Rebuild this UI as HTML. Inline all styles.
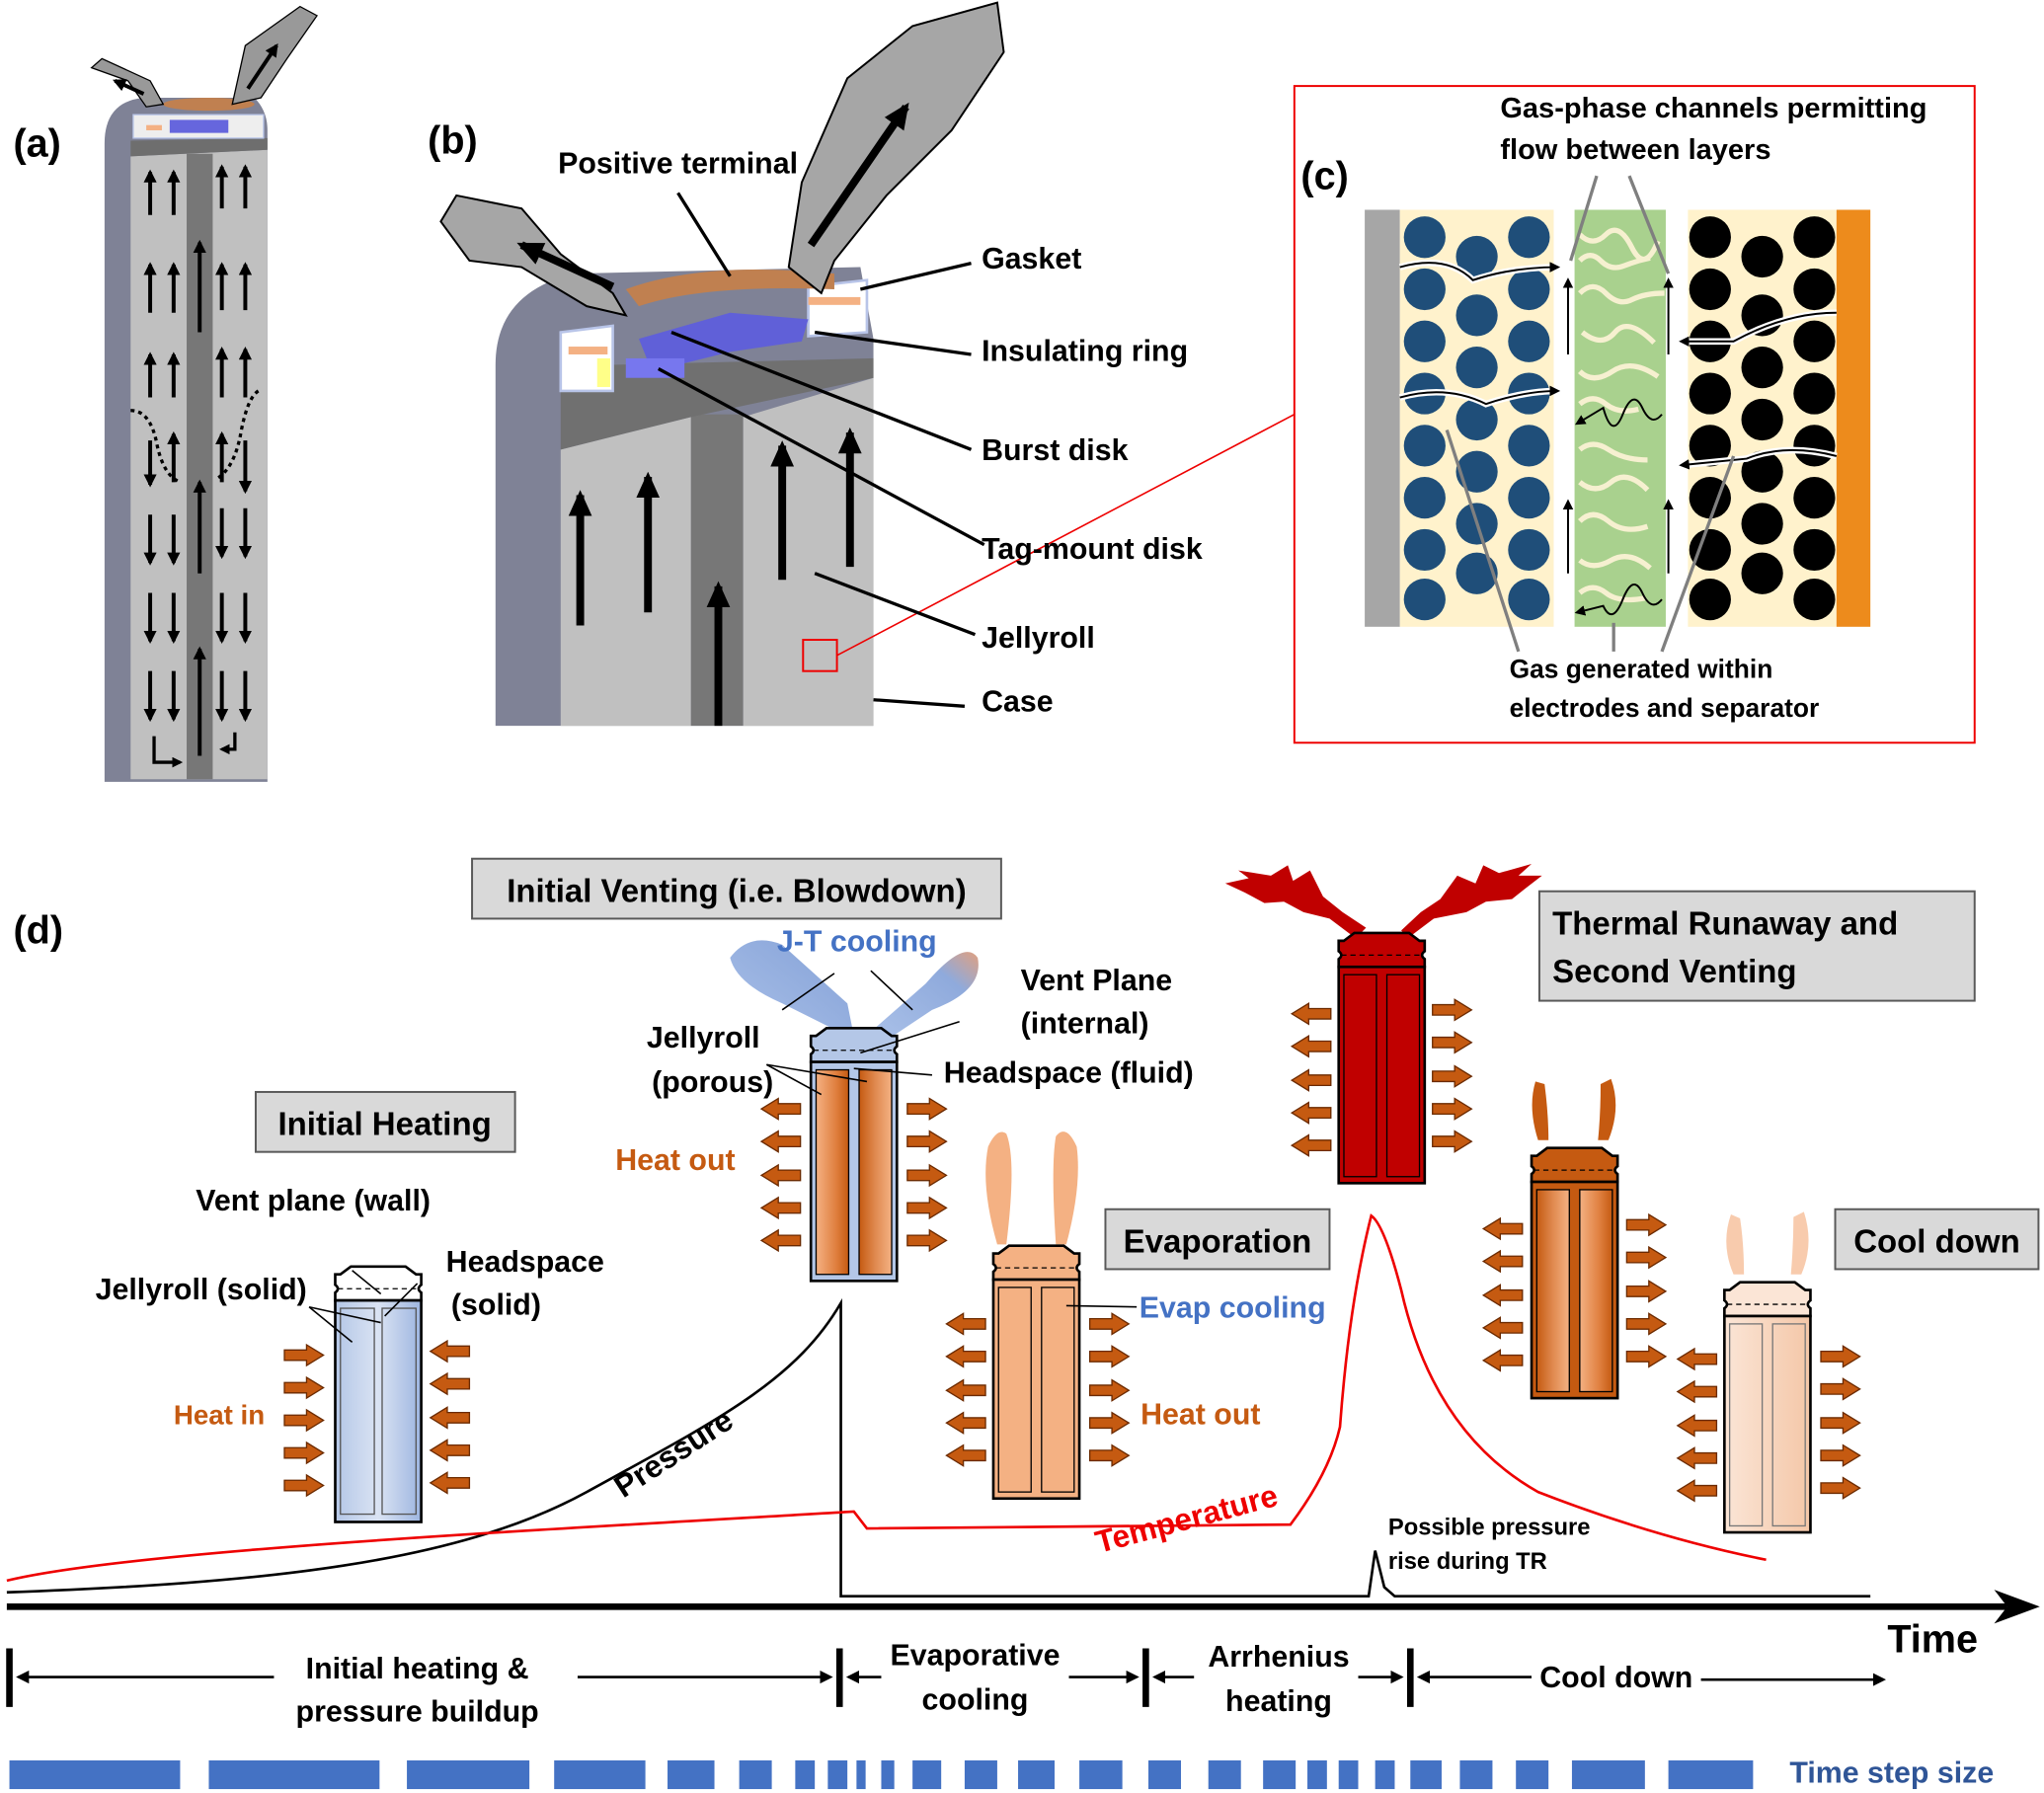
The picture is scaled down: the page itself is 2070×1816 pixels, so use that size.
<!DOCTYPE html>
<html><head><meta charset="utf-8"><style>html,body{margin:0;padding:0;background:#fff}svg{display:block}text{font-family:"Liberation Sans",sans-serif;font-weight:bold}</style></head><body>
<svg width="2070" height="1816" viewBox="0 0 1568 1376" xmlns="http://www.w3.org/2000/svg">
<defs>
<path id="ar" d="M0,-4 L17,-4 L17,-8 L30,0 L17,8 L17,4 L0,4Z" fill="#c55a11" stroke="#6b2a00" stroke-width="1"/>
<marker id="mk" markerUnits="userSpaceOnUse" markerWidth="10" markerHeight="10" refX="8" refY="5" orient="auto"><path d="M0,0 L10,5 L0,10Z" fill="#000"/></marker>
<marker id="ms" markerUnits="userSpaceOnUse" markerWidth="8" markerHeight="8" refX="6" refY="4" orient="auto"><path d="M0,0 L8,4 L0,8Z" fill="#000"/></marker>
<marker id="mb" markerUnits="userSpaceOnUse" markerWidth="20" markerHeight="20" refX="16" refY="10" orient="auto"><path d="M0,1 L20,10 L0,19Z" fill="#000"/></marker>
<linearGradient id="gb" x1="0" x2="1"><stop offset="0" stop-color="#b4c7e7"/><stop offset=".5" stop-color="#dae3f3"/><stop offset="1" stop-color="#9db5e0"/></linearGradient>
<linearGradient id="go" x1="0" x2="1"><stop offset="0" stop-color="#f4b183"/><stop offset=".6" stop-color="#e08040"/><stop offset="1" stop-color="#c55a11"/></linearGradient>
<linearGradient id="go2" x1="0" x2="1"><stop offset="0" stop-color="#c55a11"/><stop offset=".5" stop-color="#e08a50"/><stop offset="1" stop-color="#f4b183"/></linearGradient>
<linearGradient id="gc" x1="0" x2="1"><stop offset="0" stop-color="#fbe5d6"/><stop offset="1" stop-color="#f4c7a8"/></linearGradient>
<linearGradient id="gp" x1="0" x2="1" y1="1" y2="0"><stop offset="0" stop-color="#a9c0e8"/><stop offset=".7" stop-color="#8faadc"/><stop offset="1" stop-color="#e0a080"/></linearGradient>
</defs>

<!-- (a) -->
<text x="10" y="120" font-size="30">(a)</text>
<path d="M80,110 Q80,78 110,75 L195,75 Q205,85 205,100 L205,600 L80,600Z" fill="#7f8296"/>
<path d="M100,120 L205,115 L205,598 L100,598Z" fill="#c0c0c0"/>
<rect x="143" y="118" width="20" height="480" fill="#777"/>
<path d="M100,120 L205,115 L205,106 L100,108Z" fill="#6e6e6e"/>
<rect x="102" y="88" width="100" height="18" fill="#eee" stroke="#b8c4e8"/>
<rect x="130" y="92" width="45" height="10" fill="#6666dd"/>
<rect x="112" y="96" width="12" height="4" fill="#f4b183"/>
<ellipse cx="160" cy="80" rx="35" ry="5" fill="#c08050"/>
<path d="M98,62 L70,52 L78,45 L115,62 L125,80 L112,82Z" fill="#999" stroke="#000"/>
<path d="M178,80 L188,35 L230,5 L243,12 L220,45 L200,75Z" fill="#999" stroke="#000"/>
<g stroke="#000" stroke-width="3" marker-end="url(#mk)">
<line x1="110" y1="72" x2="88" y2="62"/><line x1="190" y1="68" x2="212" y2="35"/>
<line x1="115" y1="165" x2="115" y2="132"/><line x1="133" y1="165" x2="133" y2="132"/><line x1="170" y1="160" x2="170" y2="128"/><line x1="188" y1="160" x2="188" y2="128"/>
<line x1="115" y1="240" x2="115" y2="203"/><line x1="133" y1="240" x2="133" y2="203"/><line x1="170" y1="238" x2="170" y2="203"/><line x1="188" y1="238" x2="188" y2="203"/>
<line x1="153" y1="255" x2="153" y2="186"/>
<line x1="115" y1="305" x2="115" y2="272"/><line x1="133" y1="305" x2="133" y2="272"/><line x1="170" y1="305" x2="170" y2="268"/><line x1="188" y1="305" x2="188" y2="268"/>
<line x1="115" y1="338" x2="115" y2="372"/><line x1="133" y1="370" x2="133" y2="333"/><line x1="170" y1="370" x2="170" y2="333"/><line x1="188" y1="338" x2="188" y2="377"/>
<line x1="153" y1="440" x2="153" y2="370"/><line x1="153" y1="580" x2="153" y2="498"/>
<line x1="115" y1="395" x2="115" y2="432"/><line x1="133" y1="395" x2="133" y2="432"/><line x1="170" y1="390" x2="170" y2="427"/><line x1="188" y1="390" x2="188" y2="427"/>
<line x1="115" y1="455" x2="115" y2="492"/><line x1="133" y1="455" x2="133" y2="492"/><line x1="170" y1="455" x2="170" y2="492"/><line x1="188" y1="455" x2="188" y2="492"/>
<line x1="115" y1="515" x2="115" y2="552"/><line x1="133" y1="515" x2="133" y2="552"/><line x1="170" y1="515" x2="170" y2="552"/><line x1="188" y1="515" x2="188" y2="552"/>
</g>
<path d="M100,315 Q115,315 120,340 Q125,365 138,370 M198,300 Q190,305 185,330 Q180,360 165,368" fill="none" stroke="#000" stroke-width="2.5" stroke-dasharray="3,3"/>
<path d="M118,565 L118,585 L138,585" fill="none" stroke="#000" stroke-width="2.5" marker-end="url(#ms)"/>
<path d="M180,562 L180,575 L170,575" fill="none" stroke="#000" stroke-width="2.5" marker-end="url(#ms)"/>

<!-- (b) -->
<text x="328" y="118" font-size="30">(b)</text>
<path d="M380,280 Q380,225 440,210 L660,205 L670,260 L670,557 L380,557Z" fill="#7f8296"/>
<path d="M430,345 L530,320 L530,557 L430,557Z" fill="#c0c0c0"/>
<path d="M570,320 L670,290 L670,557 L570,557Z" fill="#c0c0c0"/>
<rect x="530" y="318" width="40" height="239" fill="#777"/>
<path d="M430,345 L530,320 L670,290 L670,275 L470,280 L430,300Z" fill="#707070"/>
<path d="M430,255 L470,250 L470,300 L430,300Z" fill="#fff" stroke="#b8c4e8" stroke-width="2"/>
<rect x="436" y="266" width="30" height="6" fill="#f4b183"/>
<rect x="458" y="275" width="10" height="22" fill="#ffff88"/>
<path d="M620,220 L665,215 L665,255 L620,258Z" fill="#fff" stroke="#b8c4e8" stroke-width="2"/>
<rect x="620" y="228" width="40" height="6" fill="#f4b183"/>
<path d="M490,260 L560,240 L620,245 L615,262 L560,270 L500,285Z" fill="#6060d8"/>
<rect x="480" y="275" width="45" height="15" fill="#7777ee"/>
<path d="M480,222 Q540,200 640,210 L640,222 Q540,218 490,235Z" fill="#c08050"/>
<path d="M350,150 L338,170 L360,200 L400,205 L450,235 L480,242 L470,225 L430,195 L400,160 Z" fill="#a6a6a6" stroke="#000" stroke-width="1.5"/>
<path d="M605,205 L615,140 L650,60 L700,20 L765,2 L770,40 L730,100 L680,150 L640,200 L630,225Z" fill="#a6a6a6" stroke="#000" stroke-width="1.5"/>
<g stroke="#000" stroke-width="6" marker-end="url(#mb)">
<line x1="470" y1="220" x2="400" y2="188"/><line x1="622" y1="188" x2="695" y2="82"/>
<line x1="445" y1="480" x2="445" y2="380"/><line x1="497" y1="470" x2="497" y2="366"/><line x1="600" y1="445" x2="600" y2="342"/><line x1="652" y1="435" x2="652" y2="332"/><line x1="551" y1="557" x2="551" y2="450"/>
</g>
<rect x="616" y="491" width="26" height="24" fill="none" stroke="#e00" stroke-width="1.5"/>
<line x1="642" y1="503" x2="993" y2="318" stroke="#e00" stroke-width="1.2"/>
<g stroke="#000" stroke-width="2.5">
<line x1="520" y1="148" x2="560" y2="212"/><line x1="745" y1="202" x2="660" y2="222"/><line x1="745" y1="272" x2="625" y2="255"/><line x1="745" y1="345" x2="515" y2="255"/><line x1="755" y1="418" x2="505" y2="283"/><line x1="748" y1="487" x2="625" y2="440"/><line x1="740" y1="542" x2="670" y2="537"/>
</g>
<g font-size="23">
<text x="428" y="133">Positive terminal</text><text x="753" y="206">Gasket</text><text x="753" y="277">Insulating ring</text><text x="753" y="353">Burst disk</text><text x="753" y="429">Tag-mount disk</text><text x="753" y="497">Jellyroll</text><text x="753" y="546">Case</text>
</g>

<!-- (c) -->
<rect x="993" y="66" width="522" height="504" fill="none" stroke="#e00" stroke-width="1.5"/>
<text x="998" y="145" font-size="30">(c)</text>
<text x="1151" y="90" font-size="22">Gas-phase channels permitting</text>
<text x="1151" y="122" font-size="22">flow between layers</text>
<rect x="1047" y="161" width="27" height="320" fill="#a6a6a6"/>
<rect x="1074" y="161" width="118" height="320" fill="#fff2cc"/>
<rect x="1208" y="161" width="70" height="320" fill="#a9d18e"/>
<path d="M1212,180 q10,10 20,0 t20,10 t20,-5 M1212,200 q8,-8 16,0 t18,4 t20,-6 M1212,225 q10,-10 20,0 t20,5 t25,-5 M1214,255 q15,12 25,0 t30,8 M1212,285 q10,10 25,0 t35,4 M1212,310 q10,-8 20,0 t25,4 M1212,345 q10,-8 22,0 t30,8 M1212,370 q12,10 24,0 t28,6 M1212,400 q10,-10 22,0 t30,4 M1212,430 q10,8 24,0 t30,6 M1212,455 q10,-8 20,0 t30,4" fill="none" stroke="#f6f0d0" stroke-width="4"/>
<rect x="1295" y="161" width="114" height="320" fill="#fff2cc"/>
<rect x="1409" y="161" width="26" height="320" fill="#ed8b1c"/>
<g fill="#1f4e79">
<circle cx="1093" cy="182" r="16"/><circle cx="1133" cy="197" r="16"/><circle cx="1173" cy="182" r="16"/>
<circle cx="1093" cy="222" r="16"/><circle cx="1133" cy="242" r="16"/><circle cx="1173" cy="222" r="16"/>
<circle cx="1093" cy="262" r="16"/><circle cx="1133" cy="282" r="16"/><circle cx="1173" cy="262" r="16"/>
<circle cx="1093" cy="302" r="16"/><circle cx="1133" cy="322" r="16"/><circle cx="1173" cy="302" r="16"/>
<circle cx="1093" cy="342" r="16"/><circle cx="1133" cy="362" r="16"/><circle cx="1173" cy="342" r="16"/>
<circle cx="1093" cy="382" r="16"/><circle cx="1133" cy="402" r="16"/><circle cx="1173" cy="382" r="16"/>
<circle cx="1093" cy="422" r="16"/><circle cx="1133" cy="440" r="16"/><circle cx="1173" cy="422" r="16"/>
<circle cx="1093" cy="460" r="16"/><circle cx="1173" cy="460" r="16"/>
</g>
<g fill="#000">
<circle cx="1312" cy="182" r="16"/><circle cx="1352" cy="197" r="16"/><circle cx="1392" cy="182" r="16"/>
<circle cx="1312" cy="222" r="16"/><circle cx="1352" cy="242" r="16"/><circle cx="1392" cy="222" r="16"/>
<circle cx="1312" cy="262" r="16"/><circle cx="1352" cy="282" r="16"/><circle cx="1392" cy="262" r="16"/>
<circle cx="1312" cy="302" r="16"/><circle cx="1352" cy="322" r="16"/><circle cx="1392" cy="302" r="16"/>
<circle cx="1312" cy="342" r="16"/><circle cx="1352" cy="362" r="16"/><circle cx="1392" cy="342" r="16"/>
<circle cx="1312" cy="382" r="16"/><circle cx="1352" cy="402" r="16"/><circle cx="1392" cy="382" r="16"/>
<circle cx="1312" cy="422" r="16"/><circle cx="1352" cy="440" r="16"/><circle cx="1392" cy="422" r="16"/>
<circle cx="1312" cy="460" r="16"/><circle cx="1392" cy="460" r="16"/>
</g>
<g fill="none" stroke="#fff" stroke-width="5">
<path d="M1074,205 Q1110,195 1130,215 Q1160,205 1195,205"/><path d="M1074,305 Q1110,295 1140,310 Q1170,300 1195,300"/>
<path d="M1409,240 Q1370,240 1330,262 L1290,262"/><path d="M1409,350 Q1370,340 1340,352 L1290,357"/>
</g>
<g fill="none" stroke="#000" stroke-width="1.5" marker-end="url(#ms)">
<path d="M1074,205 Q1110,195 1130,215 Q1160,205 1195,205"/><path d="M1074,305 Q1110,295 1140,310 Q1170,300 1195,300"/>
<path d="M1409,240 Q1370,240 1330,262 L1290,262"/><path d="M1409,350 Q1370,340 1340,352 L1290,357"/>
<path d="M1280,272 L1280,215"/><path d="M1280,440 L1280,385"/><path d="M1203,440 L1203,385"/><path d="M1203,272 L1203,215"/>
<path d="M1275,318 q-8,10 -15,-5 t-15,5 t-15,-5 L1210,325"/><path d="M1275,460 q-8,10 -15,-5 t-15,5 t-15,5 L1210,470"/>
</g>
<g stroke="#7f7f7f" stroke-width="2.5">
<line x1="1225" y1="135" x2="1205" y2="200"/><line x1="1250" y1="135" x2="1280" y2="210"/>
<line x1="1165" y1="500" x2="1110" y2="330"/><line x1="1238" y1="500" x2="1238" y2="478"/><line x1="1275" y1="500" x2="1330" y2="350"/>
</g>
<text x="1158" y="520" font-size="20">Gas generated within</text>
<text x="1158" y="550" font-size="20">electrodes and separator</text>

<!-- (d) -->
<text x="10" y="724" font-size="30">(d)</text>
<rect x="362" y="659" width="406" height="46" fill="#d9d9d9" stroke="#595959" stroke-width="1.5"/>
<text x="565" y="692" font-size="25" text-anchor="middle">Initial Venting (i.e. Blowdown)</text>
<rect x="196" y="838" width="199" height="46" fill="#d9d9d9" stroke="#595959" stroke-width="1.5"/>
<text x="295" y="871" font-size="25" text-anchor="middle">Initial Heating</text>
<rect x="848" y="928" width="172" height="46" fill="#d9d9d9" stroke="#595959" stroke-width="1.5"/>
<text x="934" y="961" font-size="25" text-anchor="middle">Evaporation</text>
<rect x="1408" y="928" width="156" height="46" fill="#d9d9d9" stroke="#595959" stroke-width="1.5"/>
<text x="1486" y="961" font-size="25" text-anchor="middle">Cool down</text>
<rect x="1181" y="684" width="334" height="84" fill="#d9d9d9" stroke="#595959" stroke-width="1.5"/>
<text x="1191" y="717" font-size="25">Thermal Runaway and</text>
<text x="1191" y="754" font-size="25">Second Venting</text>

<!-- curves -->
<path d="M5,1222 C200,1215 350,1200 450,1145 C550,1090 610,1060 645,1000 L645,1225 L1050,1225 L1055,1190 L1062,1218 L1070,1225 L1435,1225" fill="none" stroke="#000" stroke-width="2"/>
<path d="M5,1213 C100,1190 400,1175 655,1160 L665,1173 L990,1170 Q1020,1130 1028,1095 Q1035,1000 1052,933 Q1062,940 1075,990 Q1100,1100 1180,1145 Q1270,1180 1355,1197" fill="none" stroke="#e00" stroke-width="2"/>
<text x="478" y="1150" font-size="24" transform="rotate(-33 478 1150)">Pressure</text>
<text x="843" y="1192" font-size="24" fill="#e00" transform="rotate(-15 843 1192)">Temperature</text>

<!-- Cell 1 initial heating -->
<g transform="translate(257,978)">
<path d="M4,0 L12,-6 L54,-6 L62,0 L66,0 L66,8 Q62,11 66,14 L66,20 L0,20 L0,14 Q4,11 0,8 L0,0Z" fill="#fff" stroke="#000" stroke-width="2"/>
<line x1="2" y1="11" x2="64" y2="11" stroke="#000" stroke-dasharray="4,3"/>
<rect x="0" y="20" width="66" height="170" fill="url(#gb)" stroke="#000" stroke-width="2"/>
<rect x="4" y="26" width="26" height="158" fill="none" stroke="#555"/><rect x="36" y="26" width="26" height="158" fill="none" stroke="#555"/>
</g>
<g><use href="#ar" x="218" y="1040"/><use href="#ar" x="218" y="1065"/><use href="#ar" x="218" y="1090"/><use href="#ar" x="218" y="1115"/><use href="#ar" x="218" y="1140"/>
<g transform="translate(360,0) scale(-1,1)"><use href="#ar" x="0" y="1037"/><use href="#ar" x="0" y="1062"/><use href="#ar" x="0" y="1088"/><use href="#ar" x="0" y="1113"/><use href="#ar" x="0" y="1138"/></g></g>
<text x="133" y="1093" font-size="21" fill="#c55a11">Heat in</text>
<g stroke="#000" stroke-width="1.2"><line x1="270" y1="975" x2="292" y2="993"/><line x1="320" y1="985" x2="295" y2="1010"/><line x1="237" y1="1003" x2="270" y2="1030"/><line x1="237" y1="1003" x2="292" y2="1015"/></g>
<text x="150" y="929" font-size="23">Vent plane (wall)</text>
<text x="73" y="997" font-size="23">Jellyroll (solid)</text>
<text x="342" y="976" font-size="23">Headspace</text><text x="346" y="1009" font-size="23">(solid)</text>

<!-- Cell 2 venting -->
<path d="M640,790 L600,770 Q565,755 560,735 Q575,715 600,725 L650,770 L655,795Z" fill="url(#gp)"/>
<path d="M670,790 L710,755 Q740,720 750,735 Q755,760 715,775 L685,795Z" fill="url(#gp)"/>
<g transform="translate(622,795)">
<path d="M4,0 L12,-6 L54,-6 L62,0 L66,0 L66,8 Q62,11 66,14 L66,20 L0,20 L0,14 Q4,11 0,8 L0,0Z" fill="#b4c7e7" stroke="#000" stroke-width="2"/>
<line x1="2" y1="11" x2="64" y2="11" stroke="#000" stroke-dasharray="4,3"/>
<rect x="0" y="20" width="66" height="168" fill="#b4c7e7" stroke="#000" stroke-width="2"/>
<rect x="4" y="26" width="25" height="157" fill="url(#go)" stroke="#000"/><rect x="37" y="26" width="25" height="157" fill="url(#go2)" stroke="#000"/>
</g>
<g><use href="#ar" x="696" y="851"/><use href="#ar" x="696" y="876"/><use href="#ar" x="696" y="902"/><use href="#ar" x="696" y="927"/><use href="#ar" x="696" y="952"/>
<g transform="translate(614,0) scale(-1,1)"><use href="#ar" x="0" y="851"/><use href="#ar" x="0" y="876"/><use href="#ar" x="0" y="902"/><use href="#ar" x="0" y="927"/><use href="#ar" x="0" y="952"/></g></g>
<text x="472" y="898" font-size="23" fill="#c55a11">Heat out</text>
<text x="596" y="730" font-size="23" fill="#4472c4">J-T cooling</text>
<text x="783" y="760" font-size="23">Vent Plane</text><text x="783" y="793" font-size="23">(internal)</text>
<text x="496" y="804" font-size="23">Jellyroll</text><text x="500" y="838" font-size="23">(porous)</text>
<text x="724" y="831" font-size="23">Headspace (fluid)</text>
<g stroke="#000" stroke-width="1.2"><line x1="640" y1="747" x2="600" y2="775"/><line x1="668" y1="745" x2="700" y2="775"/><line x1="736" y1="784" x2="660" y2="808"/><line x1="655" y1="820" x2="715" y2="825"/><line x1="588" y1="817" x2="665" y2="830"/><line x1="588" y1="817" x2="630" y2="840"/></g>

<!-- Cell 3 evaporation -->
<path d="M765,955 Q752,910 758,880 Q765,865 772,870 Q780,890 772,955Z" fill="#f4b183"/>
<path d="M818,955 Q830,910 826,880 Q818,862 810,872 Q806,895 810,955Z" fill="#f4b183"/>
<g transform="translate(762,962)">
<path d="M4,0 L12,-6 L54,-6 L62,0 L66,0 L66,8 Q62,11 66,14 L66,20 L0,20 L0,14 Q4,11 0,8 L0,0Z" fill="#f4b183" stroke="#000" stroke-width="2"/>
<line x1="2" y1="11" x2="64" y2="11" stroke="#000" stroke-dasharray="4,3"/>
<rect x="0" y="20" width="66" height="168" fill="#f4b183" stroke="#000" stroke-width="2"/>
<rect x="4" y="26" width="25" height="157" fill="#f4b183" stroke="#000"/><rect x="37" y="26" width="25" height="157" fill="#f4b183" stroke="#000"/>
</g>
<g><use href="#ar" x="836" y="1016"/><use href="#ar" x="836" y="1041"/><use href="#ar" x="836" y="1067"/><use href="#ar" x="836" y="1092"/><use href="#ar" x="836" y="1117"/>
<g transform="translate(756,0) scale(-1,1)"><use href="#ar" x="0" y="1016"/><use href="#ar" x="0" y="1041"/><use href="#ar" x="0" y="1067"/><use href="#ar" x="0" y="1092"/><use href="#ar" x="0" y="1117"/></g></g>
<line x1="818" y1="1002" x2="872" y2="1003" stroke="#000" stroke-width="1.2"/>
<text x="874" y="1011" font-size="23" fill="#4472c4">Evap cooling</text>
<text x="875" y="1093" font-size="23" fill="#c55a11">Heat out</text>

<!-- Cell 4 thermal runaway -->
<path d="M1040,720 L1020,705 L1000,700 L985,692 L970,693 L955,685 L940,678 L958,674 L950,668 L975,672 L988,664 L992,676 L1005,668 L1015,688 L1030,700 L1048,712Z" fill="#c00000"/>
<path d="M1080,720 L1100,705 L1125,700 L1140,692 L1160,690 L1170,682 L1183,672 L1165,672 L1175,663 L1150,670 L1138,664 L1132,678 L1118,672 L1105,690 L1090,700 L1075,714Z" fill="#c00000"/>
<g transform="translate(1027,722)">
<path d="M4,0 L12,-6 L54,-6 L62,0 L66,0 L66,8 Q62,11 66,14 L66,20 L0,20 L0,14 Q4,11 0,8 L0,0Z" fill="#c00000" stroke="#000" stroke-width="2"/>
<line x1="2" y1="11" x2="64" y2="11" stroke="#000" stroke-dasharray="4,3"/>
<rect x="0" y="20" width="66" height="166" fill="#c00000" stroke="#000" stroke-width="2"/>
<rect x="4" y="26" width="25" height="155" fill="#c00000" stroke="#000"/><rect x="37" y="26" width="25" height="155" fill="#c00000" stroke="#000"/>
</g>
<g><use href="#ar" x="1099" y="775"/><use href="#ar" x="1099" y="800"/><use href="#ar" x="1099" y="826"/><use href="#ar" x="1099" y="851"/><use href="#ar" x="1099" y="876"/>
<g transform="translate(1021,0) scale(-1,1)"><use href="#ar" x="0" y="778"/><use href="#ar" x="0" y="803"/><use href="#ar" x="0" y="829"/><use href="#ar" x="0" y="854"/><use href="#ar" x="0" y="879"/></g></g>

<!-- Cell 5 -->
<path d="M1180,875 Q1172,850 1178,830 L1185,832 Q1188,855 1188,875Z" fill="#c55a11"/>
<path d="M1234,875 Q1244,850 1236,828 L1228,832 Q1228,855 1226,875Z" fill="#c55a11"/>
<g transform="translate(1175,887)">
<path d="M4,0 L12,-6 L54,-6 L62,0 L66,0 L66,8 Q62,11 66,14 L66,20 L0,20 L0,14 Q4,11 0,8 L0,0Z" fill="#c55a11" stroke="#000" stroke-width="2"/>
<line x1="2" y1="11" x2="64" y2="11" stroke="#000" stroke-dasharray="4,3"/>
<rect x="0" y="20" width="66" height="166" fill="#c55a11" stroke="#000" stroke-width="2"/>
<rect x="4" y="26" width="25" height="155" fill="url(#go2)" stroke="#000"/><rect x="37" y="26" width="25" height="155" fill="url(#go)" stroke="#000"/>
</g>
<g><use href="#ar" x="1248" y="940"/><use href="#ar" x="1248" y="965"/><use href="#ar" x="1248" y="991"/><use href="#ar" x="1248" y="1016"/><use href="#ar" x="1248" y="1041"/>
<g transform="translate(1168,0) scale(-1,1)"><use href="#ar" x="0" y="943"/><use href="#ar" x="0" y="968"/><use href="#ar" x="0" y="994"/><use href="#ar" x="0" y="1019"/><use href="#ar" x="0" y="1044"/></g></g>

<!-- Cell 6 cool down -->
<path d="M1330,978 Q1320,955 1328,932 L1335,935 Q1338,955 1338,978Z" fill="#f8cbad"/>
<path d="M1382,978 Q1392,955 1384,930 L1376,934 Q1376,955 1374,978Z" fill="#f8cbad"/>
<g transform="translate(1323,990)">
<path d="M4,0 L12,-6 L54,-6 L62,0 L66,0 L66,8 Q62,11 66,14 L66,20 L0,20 L0,14 Q4,11 0,8 L0,0Z" fill="#fbe5d6" stroke="#000" stroke-width="2"/>
<line x1="2" y1="11" x2="64" y2="11" stroke="#000" stroke-dasharray="4,3"/>
<rect x="0" y="20" width="66" height="166" fill="url(#gc)" stroke="#000" stroke-width="2"/>
<rect x="4" y="26" width="25" height="155" fill="none" stroke="#777"/><rect x="37" y="26" width="25" height="155" fill="none" stroke="#777"/>
</g>
<g><use href="#ar" x="1397" y="1041"/><use href="#ar" x="1397" y="1066"/><use href="#ar" x="1397" y="1092"/><use href="#ar" x="1397" y="1117"/><use href="#ar" x="1397" y="1142"/>
<g transform="translate(1317,0) scale(-1,1)"><use href="#ar" x="0" y="1043"/><use href="#ar" x="0" y="1068"/><use href="#ar" x="0" y="1094"/><use href="#ar" x="0" y="1119"/><use href="#ar" x="0" y="1144"/></g></g>

<text x="1065" y="1178" font-size="18">Possible pressure</text>
<text x="1065" y="1204" font-size="18">rise during TR</text>

<!-- axis -->
<line x1="5" y1="1233" x2="1540" y2="1233" stroke="#000" stroke-width="5"/>
<path d="M1530,1220 L1565,1233 L1530,1246 L1540,1233Z" fill="#000"/>
<text x="1448" y="1268" font-size="30">Time</text>
<g stroke="#000" stroke-width="5"><line x1="7" y1="1265" x2="7" y2="1310"/><line x1="644" y1="1265" x2="644" y2="1310"/><line x1="879" y1="1265" x2="879" y2="1310"/><line x1="1082" y1="1265" x2="1082" y2="1310"/></g>
<g stroke="#000" stroke-width="2" marker-end="url(#mk)">
<line x1="210" y1="1287" x2="14" y2="1287"/><line x1="443" y1="1287" x2="637" y2="1287"/>
<line x1="676" y1="1287" x2="651" y2="1287"/><line x1="820" y1="1287" x2="872" y2="1287"/>
<line x1="916" y1="1287" x2="886" y2="1287"/><line x1="1042" y1="1287" x2="1075" y2="1287"/>
<line x1="1175" y1="1287" x2="1089" y2="1287"/><line x1="1305" y1="1289" x2="1445" y2="1289"/>
</g>
<g font-size="23" text-anchor="middle">
<text x="320" y="1288">Initial heating &amp;</text><text x="320" y="1321">pressure buildup</text>
<text x="748" y="1278">Evaporative</text><text x="748" y="1312">cooling</text>
<text x="981" y="1279">Arrhenius</text><text x="981" y="1313">heating</text>
<text x="1240" y="1295">Cool down</text>
</g>
<g fill="#4472c4">
<rect x="7" y="1351" width="131" height="22"/><rect x="160" y="1351" width="131" height="22"/><rect x="312" y="1351" width="94" height="22"/><rect x="425" y="1351" width="70" height="22"/><rect x="512" y="1351" width="36" height="22"/><rect x="567" y="1351" width="25" height="22"/><rect x="610" y="1351" width="15" height="22"/><rect x="635" y="1351" width="15" height="22"/><rect x="657" y="1351" width="7" height="22"/><rect x="676" y="1351" width="10" height="22"/><rect x="700" y="1351" width="22" height="22"/><rect x="740" y="1351" width="25" height="22"/><rect x="781" y="1351" width="28" height="22"/><rect x="828" y="1351" width="33" height="22"/><rect x="881" y="1351" width="25" height="22"/><rect x="927" y="1351" width="25" height="22"/><rect x="969" y="1351" width="25" height="22"/><rect x="1003" y="1351" width="15" height="22"/><rect x="1027" y="1351" width="15" height="22"/><rect x="1055" y="1351" width="15" height="22"/><rect x="1082" y="1351" width="24" height="22"/><rect x="1120" y="1351" width="25" height="22"/><rect x="1163" y="1351" width="25" height="22"/><rect x="1206" y="1351" width="56" height="22"/><rect x="1280" y="1351" width="65" height="22"/>
</g>
<text x="1373" y="1368" font-size="23" fill="#2f5597">Time step size</text>
</svg>
</body></html>
